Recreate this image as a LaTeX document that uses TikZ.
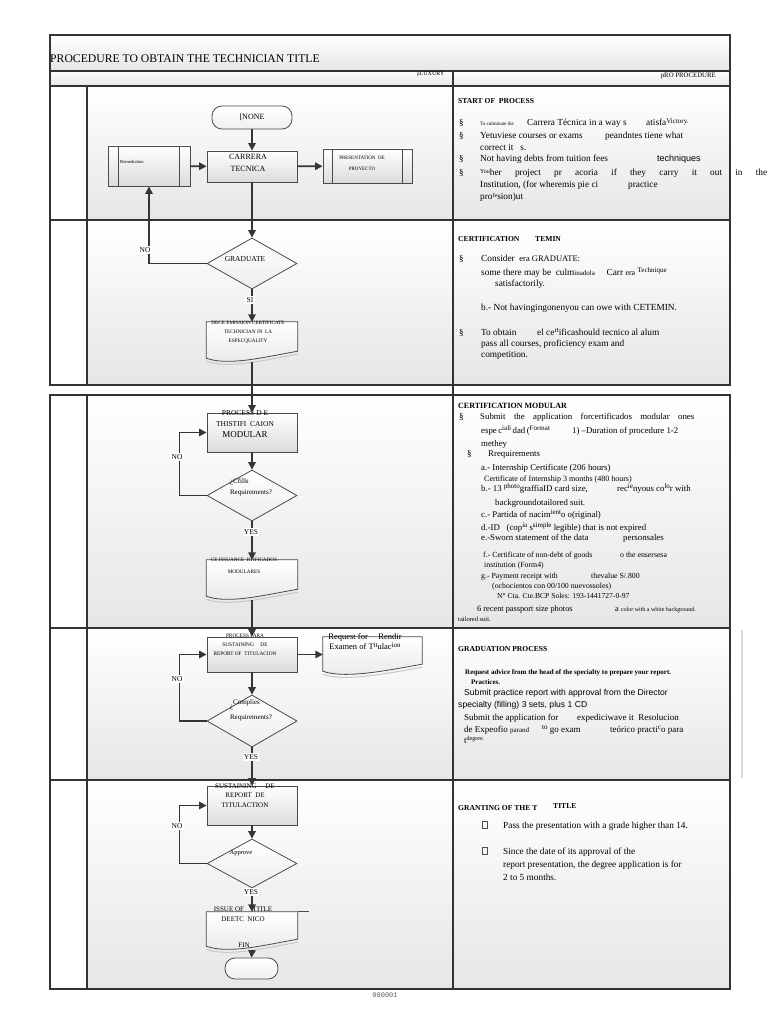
\documentclass[tikz,border=0pt]{standalone}
\usepackage{fontspec}
\setmainfont{Liberation Serif}
\newfontfamily\sansf{Liberation Sans}
\newfontfamily\monof{Liberation Mono}
\usetikzlibrary{shapes.geometric,arrows.meta,calc}
\newcommand\myfs[1]{\fontsize{#1}{#1}\selectfont}
\newcommand\myfsb[2]{\fontsize{#1}{#2}\selectfont}
\newcommand\upt[2][6]{\raisebox{2.5pt}{\myfs{#1}#2}}
\definecolor{framec}{HTML}{333333}
\definecolor{linec}{HTML}{353535}
\definecolor{shapec}{HTML}{4A4A4A}
\definecolor{bglow}{HTML}{E6E6E6}
\tikzset{
  frame/.style={draw=framec, line width=1.1pt},
  rowbg/.style={frame, top color=white, bottom color=bglow},
  colbg/.style={frame, fill=white},
  box/.style={rectangle, draw=shapec, line width=0.9pt, top color=white, bottom color=black!14, minimum width=90pt, inner sep=0pt},
  innerline/.style={draw=shapec, line width=0.9pt},
  term/.style={rectangle, draw=shapec, line width=0.8pt, rounded corners=10pt, top color=white, bottom color=black!6, inner sep=0pt},
  dec/.style={diamond, draw=shapec, line width=0.8pt, top color=white, bottom color=black!7, minimum width=90pt, minimum height=51pt, shape aspect=1.76, inner sep=0pt},
  docn/.style={rectangle, inner sep=0pt, minimum width=91pt},
  docline/.style={draw=shapec, line width=0.8pt, top color=white, bottom color=black!9},
  flowtxt/.style={inner sep=0pt, align=center, text=black},
  arr/.style={draw=linec, line width=1.6pt, -{Triangle[length=7.5pt,width=7.5pt]}},
  lbl/.style={fill=white, inner sep=1.2pt, font=\myfs{7.5}},
  txt/.style={anchor=base west, inner sep=0pt, font=\myfs{9.3}},
  head/.style={anchor=base west, inner sep=0pt, font=\myfs{7.6}\bfseries},
  secmark/.style={anchor=base west, inner sep=0pt, font=\myfs{9}},
  bulletbox/.style={draw=black!70, line width=0.6pt, minimum width=5pt, minimum height=7pt, inner sep=0pt},
}
\newcommand\docshape[1]{%
  \draw[black!22, line width=1pt] ($(#1.south east)+(0,-8)$) .. controls ($(#1.south east)+(-34,-2)$) and ($(#1.south west)+(22,7)$) .. ($(#1.south west)+(0,-1)$);
  \path[docline] (#1.north west) -- (#1.north east) -- ($(#1.south east)+(0,-11)$)
    .. controls ($(#1.south east)+(-34,-5)$) and ($(#1.south west)+(22,4)$) .. ($(#1.south west)+(0,-4)$) -- cycle;}

\begin{document}
\begin{tikzpicture}[x=1pt,y=-1pt]
\useasboundingbox (0,0) rectangle (768,1024);
\fill[white] (0,0) rectangle (768,1024);

% ---------- title and header
\path[rowbg] (50,35) rectangle (730,71);
\node[anchor=base west, inner sep=0pt, font=\myfs{11.7}] (title) at (50,63) {PROCEDURE TO OBTAIN THE TECHNICIAN TITLE};
\path[rowbg] (50,71) rectangle (730,86);
\node[anchor=base west, inner sep=0pt] (lux) at (417,76) {{\myfs{5}p}{\myfs{6}LUXURY}};
\path[rowbg] (453,71) rectangle (730,87);
\node[anchor=base east, inner sep=0pt, font=\myfs{6.8}] (proh) at (716,78) {pRO PROCEDURE};

% ---------- rows
\foreach \ya/\yb in {86/220, 220/385, 395/628, 628/780, 780/989} {
  \path[colbg] (50,\ya) rectangle (87,\yb);
  \path[rowbg] (87,\ya) rectangle (453,\yb);
  \path[rowbg] (453,\ya) rectangle (730,\yb);
}
\draw[frame] (453,385) -- (453,395);
\draw[black!15, line width=1.5pt] (742,630) -- (742,778);

% ---------- flow, row 1
\node[term, minimum width=80pt, minimum height=23pt, font=\myfs{8}] (start) at (252,117.5) {[NONE};
\node[box, minimum height=31pt] (carrera) at (252,166.5) {};
\node[flowtxt, font=\myfsb{8}{12}] (carreraT) at (248,163) {CARRERA\\TECNICA};
\node[box, minimum width=82pt, minimum height=40pt] (remed) at (149,166) {};
\draw[innerline] ([xshift=11pt]remed.north west) -- ([xshift=11pt]remed.south west)
  ([xshift=-11pt]remed.north east) -- ([xshift=-11pt]remed.south east);
\node[flowtxt, anchor=west, font=\myfs{4.6}] (remedT) at (120,162) {Remediation};
\node[box, minimum width=89pt, minimum height=34pt] (pres) at (367.5,166) {};
\draw[innerline] ([xshift=10pt]pres.north west) -- ([xshift=10pt]pres.south west)
  ([xshift=-10pt]pres.north east) -- ([xshift=-10pt]pres.south east);
\node[flowtxt, font=\myfsb{5}{11}] (presT) at (362,163.5) {PRESENTATION \ DE\\PROYECTO};

% ---------- flow, row 2
\node[dec] (grad) at (252,263.5) {};
\node[flowtxt, font=\myfs{7.5}] (gradT) at (245,259) {GRADUATE};
\node[docn, minimum height=40pt] (doc1) at (252,342) {};
\docshape{doc1}
\node[flowtxt, font=\myfsb{5.2}{9}] (doc1T) at (248,332) {DECE EMISSION CERTIFICATE\\TECHNICIAN IN \ LA\\ESPECQUALITY};

% ---------- flow, row 3
\node[box, minimum height=39pt] (proc2) at (252,432.5) {};
\node[flowtxt, font=\myfsb{7.5}{11}] (proc2T) at (245,424) {PROCESS D E\\THISTIFI \ CAION\\{\myfs{9}MODULAR}};
\node[dec] (dec2) at (252,495.5) {};
\node[flowtxt, align=left, font=\myfsb{7}{11}] (dec2T) at (251,487) {¿Cfills\\Requirements?};
\node[docn, minimum height=40pt] (doc2) at (252,580) {};
\docshape{doc2}
\node[flowtxt, font=\myfsb{5.2}{12}] (doc2T) at (244,566) {CE ISSUANCE \ RTIFICADOS\\MODULARES};

% ---------- flow, row 4
\node[box, minimum height=35pt] (proc3) at (252,654.5) {};
\node[flowtxt, font=\myfsb{5.3}{9}] (proc3T) at (245,645) {PROCESS PARA\\SUSTAINING \quad DE\\REPORT OF \ TITULACION};
\node[docn, minimum width=99pt, minimum height=38pt] (doc3) at (372.5,656) {};
\docshape{doc3}
\node[flowtxt, font=\myfsb{8.5}{10}] (doc3T) at (365,642) {Request for \quad Rendir\\Examen of T\upt[7]{it}ulac\upt[7]{ion}};
\node[dec, minimum height=52pt] (dec3) at (252,721) {};
\node[flowtxt, align=left, font=\myfsb{7}{15}] (dec3T) at (251,710.5) {{\raisebox{-4pt}{¿}}Complies\\Requirements?};

% ---------- flow, row 5
\node[box, minimum height=39pt] (proc4) at (252,805.5) {};
\node[flowtxt, font=\myfsb{7}{9.5}] (proc4T) at (245,795.5) {SUSTAINING \quad DE\\REPORT \ DE\\TITULACTION};
\node[dec, minimum height=49pt] (dec4) at (252,863.5) {};
\node[flowtxt, font=\myfs{6.5}] (dec4T) at (241,853) {Approve};
\node[docn, minimum height=38pt] (doc4) at (252,931) {};
\docshape{doc4}
\draw[innerline] (doc4.north east) -- ++(11,0);
\node[flowtxt, font=\myfsb{7}{10}] (doc4T) at (243,914) {ISSUE OF \quad TITLE\\DEETC \ NICO};
\node[term, minimum width=53pt, minimum height=21pt] (fin) at (251.5,968.5) {};

% ---------- connectors
\draw[arr] (start) -- (carrera);
\draw[arr] (remed) -- (carrera);
\draw[arr] (carrera) -- (pres);
\draw[arr] (carrera) -- (grad);
\draw[arr] (grad.west) -| (remed.south);
\draw[arr] (grad.south) -- (doc1.north);
\draw[arr] (doc1.south) -- (proc2.north);
\draw[arr] (proc2) -- (dec2);
\draw[arr] (dec2.west) -| ([xshift=-27pt]proc2.west) -- (proc2.west);
\draw[arr] (dec2.south) -- (doc2.north);
\draw[arr] (doc2.south) -- (proc3.north);
\draw[arr] (proc3.east) -- (proc3.east -| doc3.west);
\draw[arr] (proc3) -- (dec3);
\draw[arr] (dec3.west) -| ([xshift=-27pt]proc3.west) -- (proc3.west);
\draw[arr] (dec3.south) -- (proc4.north);
\draw[arr] (proc4) -- (dec4);
\draw[arr] (dec4.west) -| ([xshift=-27pt]proc4.west) -- (proc4.west);
\draw[arr] (dec4.south) -- (doc4.north);
\draw[arr] (doc4.south) -- (fin.north);

% ---------- connector labels
\node[lbl] (noA) at (145,250) {NO};
\node[lbl] (siA) at (250,300) {SI};
\node[lbl] (noB) at (177,457) {NO};
\node[lbl] (yesB) at (251,532) {YES};
\node[lbl] (noC) at (177,679) {NO};
\node[lbl] (yesC) at (251,757) {YES};
\node[lbl] (noD) at (177,826) {NO};
\node[lbl] (yesD) at (251,892) {YES};
\node[inner sep=0pt, font=\myfs{7}] (finL) at (244,945) {FIN};

% ---------- right column, row 1
\node[head] (h1) at (458,104) {START OF \ PROCESS};
\node[secmark] (m1) at (459,126) {§};
\node[secmark] (m2) at (459,139) {§};
\node[secmark] (m3) at (459,162) {§};
\node[secmark] (m4) at (459,176) {§};
\node[txt] (t1a) at (480,126) {{\myfs{5}To culminate the}};
\node[txt] (t1b) at (527,126) {Carrera Técnica in a way s};
\node[txt] (t1c) at (646,126) {atisfa\upt[7]{Victory.}};
\node[txt] (t2a) at (480,139) {Yetuviese courses or exams};
\node[txt] (t2b) at (605,139) {peandntes tiene what};
\node[txt] (t3) at (480,151) {correct it \ \ s.};
\node[txt] (t4a) at (480,162) {Not having debts from tuition fees};
\node[txt, font=\sansf\myfs{9}] (t4b) at (657,162) {techniques};
\node[txt] (t5) at (480,176) {\makebox[287pt][s]{\upt{You}her project pr acoria if they carry it out in the}};
\node[txt] (t6a) at (480,188) {Institution, (for wheremis pie ci};
\node[txt] (t6b) at (628,188) {practice};
\node[txt] (t7) at (480,200) {pro\upt{fe}sion)ut};

% ---------- right column, row 2
\node[head] (h2) at (458,241) {CERTIFICATION};
\node[head] (h2b) at (535,241) {TEMIN};
\node[secmark] (m5) at (459,261) {§};
\node[txt] (u1) at (481,261) {Consider \ {\myfs{8.5}era GRADUATE:}};
\node[txt] (u2) at (481,275) {some there may be \ culm{\myfs{7}inadola} \quad Carr {\myfs{8}era} \upt[7]{Technique}};
\node[txt] (u3) at (495,286) {satisfactorily.};
\node[txt] (u4) at (481,310) {b.- Not havingingonenyou can owe with CETEMIN.};
\node[secmark] (m6) at (459,335) {§};
\node[txt] (u5a) at (481,335) {To obtain};
\node[txt] (u5b) at (537,335) {el ce\upt[7]{rt}ificashould tecnico al alum};
\node[txt] (u6) at (481,346) {pass all courses, proficiency exam and};
\node[txt] (u7) at (481,357) {competition.};

% ---------- right column, row 3
\node[head, font=\myfs{8}\bfseries] (h3) at (458,408) {CERTIFICATION MODULAR};
\node[secmark] (m7) at (459,419) {§};
\node[txt, font=\myfs{8.8}] (v1) at (480,419) {\makebox[214pt][s]{Submit the application forcertificados modular ones}};
\node[txt, font=\myfs{8.8}] (v2a) at (481,433) {espe\,c\upt[7]{iali}\,dad\,(\upt[7]{Format}};
\node[txt, font=\myfs{8.8}] (v2b) at (572,433) {1) –Duration of procedure 1-2};
\node[txt, font=\myfs{8.8}] (v3) at (481,446) {methey};
\node[secmark] (m8) at (467,456) {§};
\node[txt, font=\myfs{8.8}] (v4) at (488,456) {Rrequirements};
\node[txt, font=\myfs{8.8}] (v5) at (481,470) {a.- Internship Certificate (206 hours)};
\node[txt, font=\myfs{8}] (v6) at (484,481) {Certificate of Internship 3 months (480 hours)};
\node[txt, font=\myfs{8.8}] (v7a) at (481,491) {b.- 13 \upt[7]{photo}graffiaID card size,};
\node[txt, font=\myfs{8.8}] (v7b) at (617,491) {rec\upt[7]{ie}nyous co\upt[7]{lo}r with};
\node[txt, font=\myfs{8.8}] (v8) at (495,505) {backgroundotailored suit.};
\node[txt, font=\myfs{8.8}] (v9) at (481,517) {c.- Partida of nacim\upt[7]{ie}\upt[7]{nt}o o(riginal)};
\node[txt, font=\myfs{8.8}] (v10) at (481,530) {d.-ID \ \ (cop\upt[7]{ia} s\upt[7]{simple} legible) that is not expired};
\node[txt, font=\myfs{8.8}] (v11a) at (481,540) {e.-Sworn statement of the data};
\node[txt, font=\myfs{8.8}] (v11b) at (623,540) {personsales};
\node[txt, font=\myfs{7.8}] (v12a) at (483,557) {f.- Certificate of non-debt of goods};
\node[txt, font=\myfs{7.8}] (v12b) at (620,557) {o the ensersesa};
\node[txt, font=\myfs{7.8}] (v13) at (484,567) {institution (Form4)};
\node[txt, font=\myfs{7.8}] (v14a) at (481,578) {g.- Payment receipt with};
\node[txt, font=\myfs{7.8}] (v14b) at (591,578) {thevalue S/.800};
\node[txt, font=\myfs{7.8}] (v15) at (492,588) {(ochocientos con 00/100 nuevossoles)};
\node[txt, font=\myfs{7.6}] (v16) at (497,598) {N° Cta. Cte.BCP Soles: 193-1441727-0-97};
\node[txt, font=\myfs{8.3}] (v17a) at (477,611) {6 recent passport size photos};
\node[txt, font=\myfs{8.3}] (v17b) at (615,611) {a {\myfs{6}color with a white background.}};
\node[txt, font=\myfs{6.5}] (v18) at (458,621) {tailored suit.};

% ---------- right column, row 4
\node[head] (h4) at (458,651) {GRADUATION PROCESS};
\node[txt, font=\myfs{7}\bfseries] (w1) at (465,674) {Request advice from the head of the specialty to prepare your report.};
\node[txt, font=\myfs{7}\bfseries] (w2) at (471,684) {Practices.};
\node[txt, font=\sansf\myfs{8.6}] (w3) at (464,695) {Submit practice report with approval from the Director};
\node[txt, font=\sansf\myfs{8.6}] (w4) at (458,707) {specialty (filling) 3 sets, plus 1 CD};
\node[txt, font=\myfs{9}] (w5a) at (464,720) {Submit the application for};
\node[txt, font=\myfs{9}] (w5b) at (577,720) {expediciwave it \ Resolucion};
\node[txt, font=\myfs{9}] (w6a) at (464,732) {de Expeofio {\myfs{7}parand}};
\node[txt, font=\myfs{9}] (w6b) at (542,732) {\upt[7]{to} go exam};
\node[txt, font=\myfs{9}] (w6c) at (610,732) {teórico practi\upt[7]{c}o para};
\node[txt, font=\myfs{9}] (w7) at (464,743) {t\upt{degree.}};

% ---------- right column, row 5
\node[head] (h5) at (458,810) {GRANTING OF THE T};
\node[head] (h5b) at (553,808) {TITLE};
\node[bulletbox] (bx1) at (485,825) {};
\node[bulletbox] (bx2) at (485,851) {};
\node[txt] (x1) at (503,828) {Pass the presentation with a grade higher than 14.};
\node[txt] (x2) at (503,854) {Since the date of its approval of the};
\node[txt] (x3) at (503,867) {report presentation, the degree application is for};
\node[txt] (x4) at (503,880) {2 to 5 months.};

% ---------- footer
\node[inner sep=0pt, font=\monof\myfs{7}, text=black!65] (pg) at (385,995) {000001};
\end{tikzpicture}
\end{document}
